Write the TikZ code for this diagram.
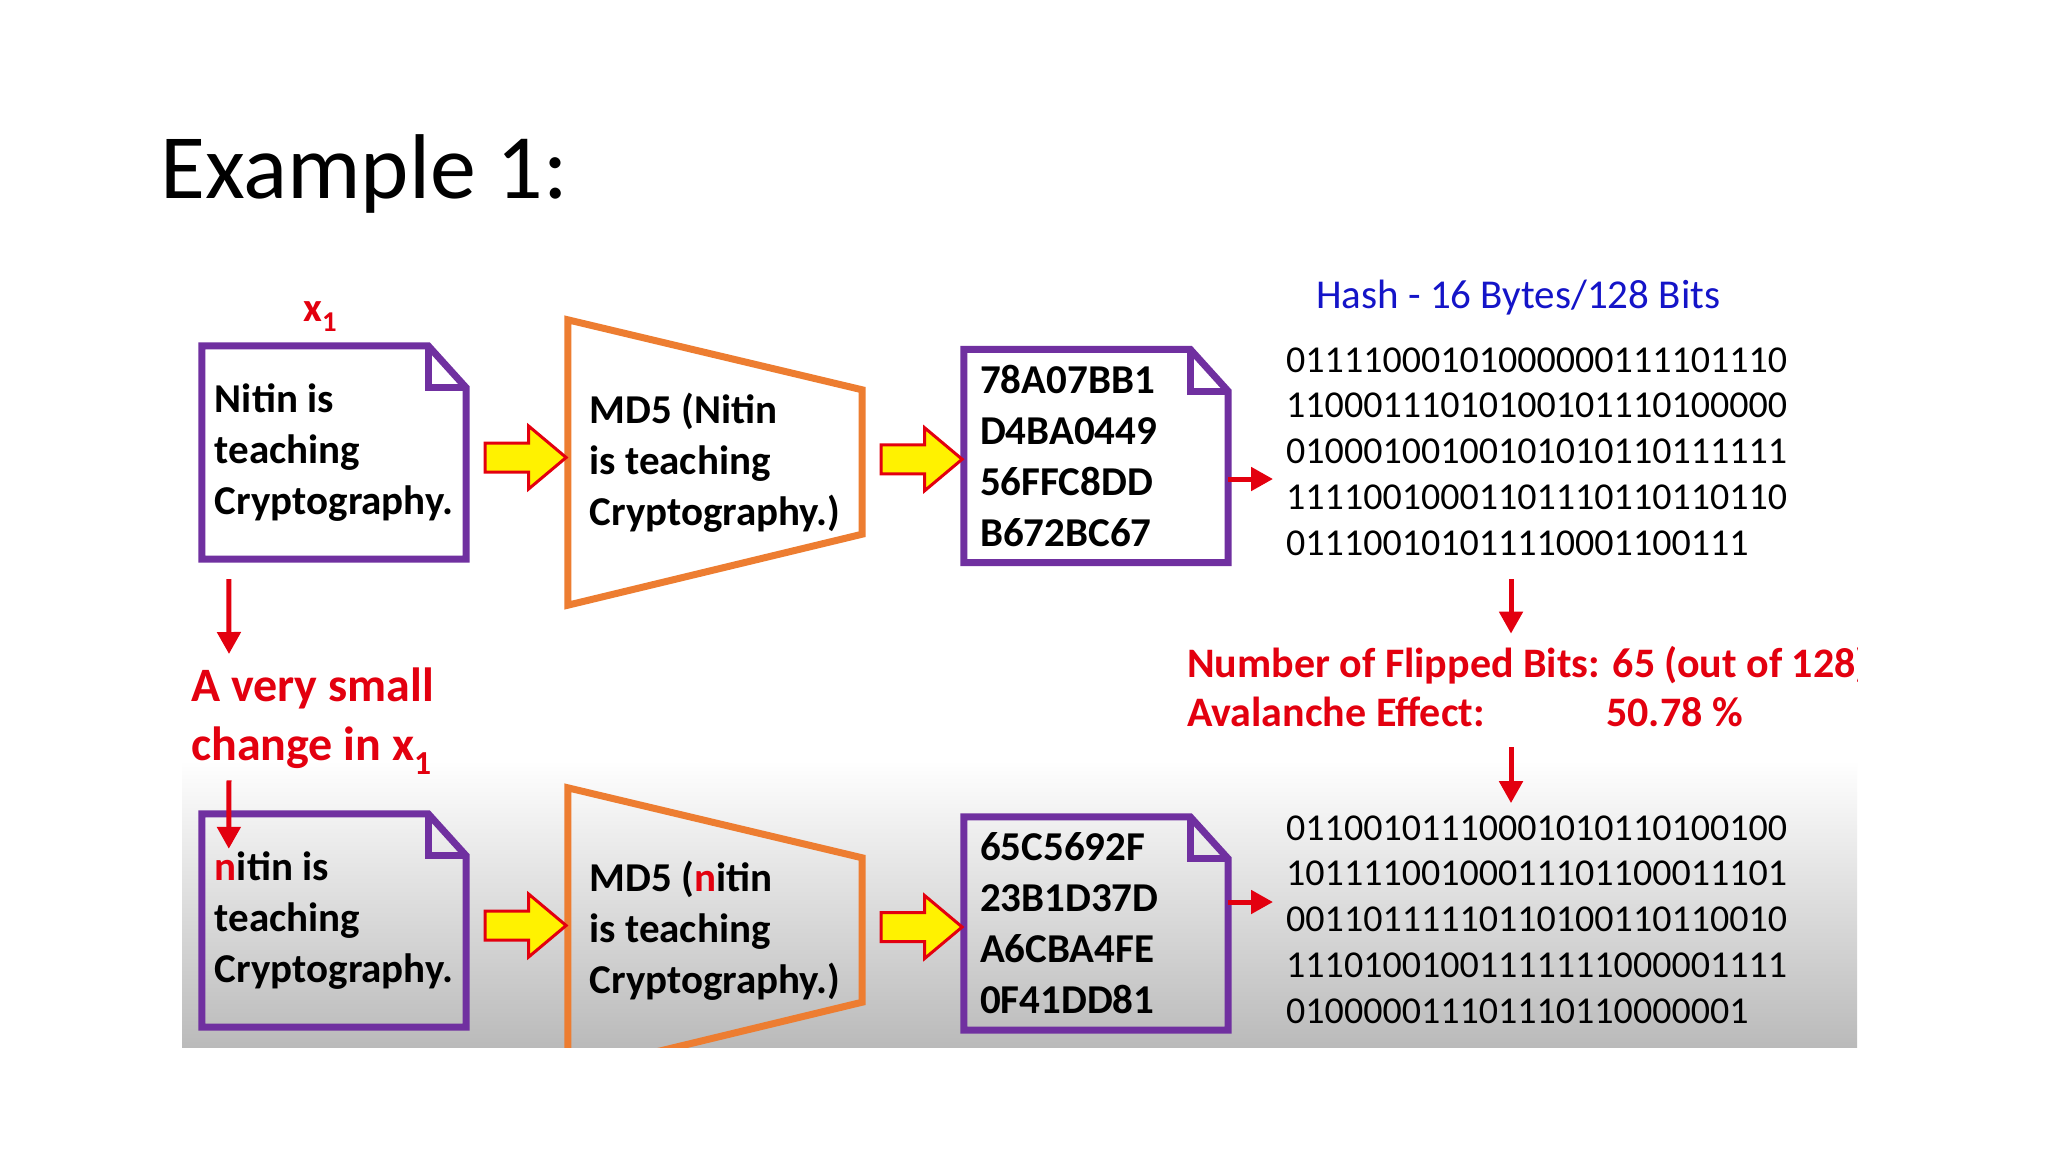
\documentclass[tikz,border=0pt]{standalone}
\usepackage{fontspec}
\setmainfont{Carlito}
\usepackage{tikz}
\usetikzlibrary{arrows.meta,shapes.arrows,positioning}

\definecolor{docpurple}{HTML}{7030A0}
\definecolor{mdorange}{HTML}{ED7D31}
\definecolor{hotred}{HTML}{E3000F}
\definecolor{hashblue}{HTML}{1414C8}

\newcommand{\docfont}{\fontsize{41}{51}\selectfont\bfseries}
\newcommand{\binfont}{\fontsize{38}{46}\selectfont}
% folded-corner page round a node
\newcommand{\drawdoc}[1]{%
  \draw[docline] (#1.north west) -- ([xshift=-38pt]#1.north east) -- ([yshift=-42pt]#1.north east)
     -- (#1.south east) -- (#1.south west) -- cycle;
  \draw[docline] ([xshift=-38pt]#1.north east) |- ([yshift=-42pt]#1.north east);}
% hash function funnel round a node
\newcommand{\drawmd}[1]{%
  \draw[mdline] (#1.north west) -- ([yshift=-70pt]#1.north east) -- ([yshift=71pt]#1.south east)
     -- (#1.south west) -- cycle;}

\begin{document}
\begin{tikzpicture}[x=1pt,y=-1pt,
    docline/.style={draw=docpurple, line width=7pt},
    mdline/.style={draw=mdorange, line width=7pt},
    docbox/.style={minimum width=264pt, minimum height=213pt, inner sep=0pt, align=left, font=\docfont},
    hashbox/.style={minimum width=264pt, minimum height=213pt, inner xsep=16pt, inner ysep=0pt,
                    text width=232pt, align=left, font=\docfont},
    mdbox/.style={minimum width=294pt, minimum height=285pt, inner sep=0pt, align=left, font=\docfont},
    blockarrow/.style={single arrow, draw=hotred, fill=yellow, line width=3pt, inner sep=0pt,
                       text height=26pt, text depth=0pt, minimum height=81pt,
                       single arrow head extend=17pt, single arrow tip angle=80},
    redarrow/.style={draw=hotred, line width=5pt, -{Triangle[length=22pt,width=23pt]}},
    bintext/.style={anchor=base west, inner sep=0pt, font=\binfont},
    flipstext/.style={anchor=base west, inner sep=0pt, text=hotred, font=\fontsize{42}{49}\selectfont\bfseries}]

\useasboundingbox (0,0) rectangle (2048,1152);
\fill[white] (0,0) rectangle (2048,1152);

\node[anchor=base west, inner sep=0pt, font=\fontsize{92}{110}\selectfont] (title) at (160,198) {Example 1:};

\begin{scope}
\clip (182,270) rectangle (1857,1047);
\fill[white] (182,270) rectangle (1857,760);
\shade[top color=white, bottom color=black!27] (182,760) rectangle (1857,1047);

% original message
\node[docbox] (doc1) at (334,452.5) {Nitin is\\teaching\\Cryptography.};
\drawdoc{doc1}
\node[anchor=base west, inner sep=0pt, text=hotred, font=\fontsize{41}{49}\selectfont\bfseries] (xlabel) at (303,321) {x\textsubscript{1}};
\node[mdbox] (md5a) at (715,462.5) {MD5 (Nitin\\is teaching\\Cryptography.)};
\drawmd{md5a}
\node[hashbox] (hash1) at (1096,456) {78A07BB1\\D4BA0449\\56FFC8DD\\B672BC67};
\drawdoc{hash1}
\path (doc1.east) -- (md5a.west) node[blockarrow, midway] (arrA) {};
\path (md5a.east) -- (hash1.west) node[blockarrow, midway] (arrB) {};

\node[anchor=base west, inner sep=0pt, text=hashblue, font=\fontsize{41}{49}\selectfont] (hashhead) at (1316,308) {Hash - 16 Bytes/128 Bits};
\foreach \bits [count=\i] in {01111000101000000111101110,11000111010100101110100000,
    01000100100101010110111111,11110010001101110110110110,011100101011110001100111}
  \node[bintext] (binA\i) at (1286,{372+45.75*(\i-1)}) {\bits};

% small change
\node[anchor=north west, inner sep=0pt, align=left, text=hotred, font=\fontsize{48}{59}\selectfont\bfseries]
  (change) at (191,668) {A very small\\change in x\textsubscript{1}};

% changed message
\node[docbox] (doc2) at (334,920.5) {{\color{hotred}n}itin is\\teaching\\Cryptography.};
\drawdoc{doc2}
\node[mdbox] (md5b) at (715,930.5) {MD5 ({\color{hotred}n}itin\\is teaching\\Cryptography.)};
\drawmd{md5b}
\node[hashbox] (hash2) at (1096,923.5) {65C5692F\\23B1D37D\\A6CBA4FE\\0F41DD81};
\drawdoc{hash2}
\path (doc2.east) -- (md5b.west) node[blockarrow, midway] (arrC) {};
\path (md5b.east) -- (hash2.west) node[blockarrow, midway] (arrD) {};

\foreach \bits [count=\i] in {01100101110001010110100100,10111100100011101100011101,
    00110111110110100110110010,11101001001111111000001111,010000011101110110000001}
  \node[bintext] (binB\i) at (1286,{840+45.75*(\i-1)}) {\bits};

% comparison
\node[flipstext] (flips) at (1187,677) {Number of Flipped Bits: 65 (out of 128)};
\node[flipstext] (aval) at (1187,726) {Avalanche Effect:};
\node[flipstext] (pct) at (1606,726) {50.78 \%};

\coordinate (hashAout) at (1273,479);
\coordinate (hashBout) at (1273,902);
\coordinate (bitsAdown) at (1511,579);
\coordinate (avalOut) at (1511,747);
\draw[redarrow] (hash1.east |- hashAout) -- (hashAout);
\draw[redarrow] (hash2.east |- hashBout) -- (hashBout);
\draw[redarrow] (bitsAdown) -- ([yshift=12pt]flips.north -| bitsAdown);
\draw[redarrow] (avalOut) -- ([yshift=12pt]binB1.north -| avalOut);
\draw[redarrow] ([xshift=27pt,yshift=-20pt]doc1.south west) -- ([xshift=38pt,yshift=14pt]change.north west);
\draw[redarrow] ([xshift=38pt,yshift=-6pt]change.south west) -- ([xshift=27pt,yshift=-35pt]doc2.north west);
\end{scope}
\end{tikzpicture}
\end{document}
